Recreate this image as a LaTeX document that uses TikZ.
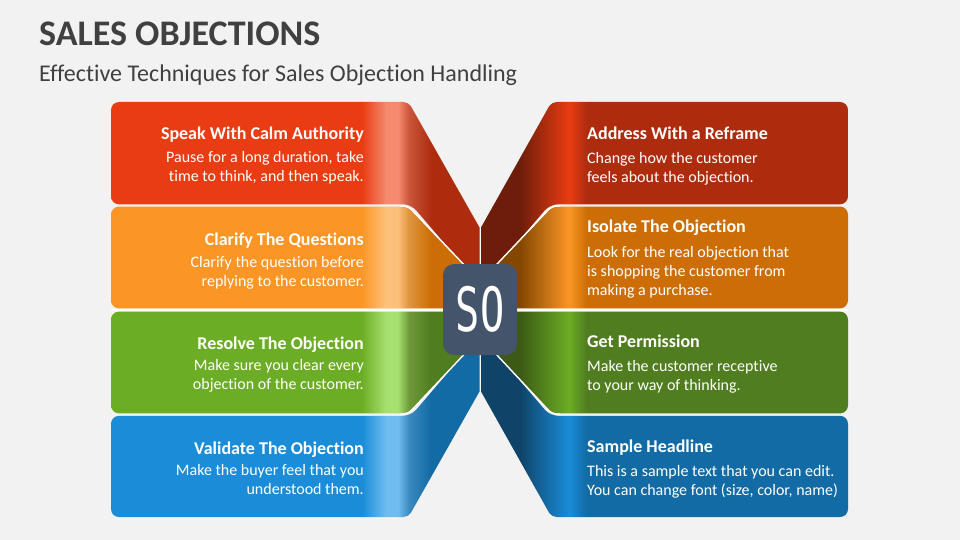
\documentclass[tikz,border=0pt]{standalone}
\usepackage{fontspec}
\setmainfont{Carlito}[Ligatures=NoCommon]
\newfontfamily\sofont{DejaVu Sans Mono}
\definecolor{bgc}{HTML}{F2F2F2}
\definecolor{inkc}{HTML}{404040}
\definecolor{slatec}{HTML}{44546A}
\definecolor{rBase}{HTML}{E93C12}\definecolor{rLight}{HTML}{F58A6E}\definecolor{rFade}{HTML}{C9553A}\definecolor{rDark}{HTML}{AE2C0E}\definecolor{rDeep}{HTML}{6E1D0A}
\definecolor{oBase}{HTML}{FB9626}\definecolor{oLight}{HTML}{FDC07A}\definecolor{oFade}{HTML}{DF9540}\definecolor{oDark}{HTML}{CC6E05}\definecolor{oDeep}{HTML}{844700}
\definecolor{gBase}{HTML}{6BAD24}\definecolor{gLight}{HTML}{A6E070}\definecolor{gFade}{HTML}{6F9A3A}\definecolor{gDark}{HTML}{507D1F}\definecolor{gDeep}{HTML}{3C5A15}
\definecolor{bBase}{HTML}{1A8CD8}\definecolor{bLight}{HTML}{70BCF0}\definecolor{bFade}{HTML}{3A88BE}\definecolor{bDark}{HTML}{126BA4}\definecolor{bDeep}{HTML}{0F4468}
\newcommand{\mkshades}[1]{%
\pgfdeclarehorizontalshading{#1L}{100bp}{color(0bp)=(#1Base); color(59bp)=(#1Base); color(62.3bp)=(#1Light); color(63.9bp)=(#1Light); color(65.4bp)=(#1Fade); color(68.4bp)=(#1Dark); color(100bp)=(#1Dark)}%
\pgfdeclarehorizontalshading{#1R}{100bp}{color(0bp)=(#1Deep); color(30.3bp)=(#1Deep); color(37bp)=(#1Base); color(39.4bp)=(#1Dark); color(100bp)=(#1Dark)}}
\mkshades{r}\mkshades{o}\mkshades{g}\mkshades{b}
\tikzset{
  seam/.style={draw=white,line width=1.4pt,line join=round},
  headL/.style={anchor=base east,inner sep=0pt,text=white,font=\fontsize{18}{19}\selectfont\bfseries},
  bodyL/.style={anchor=north east,inner sep=0pt,text=white,align=right,font=\fontsize{16}{19}\selectfont},
  headR/.style={anchor=base west,inner sep=0pt,text=white,font=\fontsize{18}{19}\selectfont\bfseries},
  bodyR/.style={anchor=north west,inner sep=0pt,text=white,align=left,font=\fontsize{16}{19}\selectfont},
}
\newcommand{\leftitem}[5]{%
  \node[headL] (#1h) at (364,#2) {#4};
  \node[bodyL] (#1b) at (364,#3-13.3) {\strut #5};}
\newcommand{\rightitem}[5]{%
  \node[headR] (#1h) at (587,#2) {#4};
  \node[bodyR] (#1b) at (587,#3-13.3) {\strut #5};}
\begin{document}
\begin{tikzpicture}[x=1pt,y=-1pt]
\useasboundingbox (0,0) rectangle (960,540);
\fill[bgc] (0,0) rectangle (960,540);
\node[anchor=base west,inner sep=0pt,text=inkc,font=\fontsize{36}{40}\selectfont\bfseries] (title) at (39,46) {SALES OBJECTIONS};
\node[anchor=base west,inner sep=0pt,text=inkc,font=\fontsize{24}{26}\selectfont] (subtitle) at (39,81.5) {Effective Techniques for Sales Objection Handling};
% far bands
\path[shading=rL,rounded corners=8pt] (480,285) -- (411,204.3) -- (111,204.3) -- (111,102) [rounded corners=5pt] -- (408.5,102) [sharp corners] -- (479.5,227.5) -- (479.5,285) -- cycle;
\path[shading=bL,rounded corners=8pt] (480,335) -- (411,415.8) -- (111,415.8) -- (111,517) [rounded corners=5pt] -- (408.5,517) [sharp corners] -- (479.5,391.5) -- (479.5,335) -- cycle;
\path[shading=rR,rounded corners=8pt] (481,285) -- (550,204.3) -- (848,204.3) -- (848,102) [rounded corners=5pt] -- (551.5,102) [sharp corners] -- (481,227.5) -- (481,285) -- cycle;
\path[shading=bR,rounded corners=8pt] (481,335) -- (550,415.8) -- (848,415.8) -- (848,517) [rounded corners=5pt] -- (551.5,517) [sharp corners] -- (481,391.5) -- (481,335) -- cycle;
% middle bands
\path[shading=oL,rounded corners=8pt] (479.5,308.4) -- (111,308.4) -- (111,206.6) [rounded corners=5pt] -- (408,206.6) [sharp corners] -- (479.5,282) -- cycle;
\path[shading=gL,rounded corners=8pt] (479.5,311.6) -- (111,311.6) -- (111,413.4) [rounded corners=5pt] -- (408,413.4) [sharp corners] -- (479.5,337.5) -- cycle;
\path[shading=oR,rounded corners=8pt] (481,308.4) -- (848,308.4) -- (848,206.6) [rounded corners=5pt] -- (552,206.6) [sharp corners] -- (481,282) -- cycle;
\path[shading=gR,rounded corners=8pt] (481,311.6) -- (848,311.6) -- (848,413.4) [rounded corners=5pt] -- (552,413.4) [sharp corners] -- (481,337.5) -- cycle;
% white seams
\draw[seam,rounded corners=5pt] (400,206) -- (408,206) -- (479.5,281);
\draw[seam,rounded corners=5pt] (400,414) -- (408,414) -- (479.5,338);
\draw[seam,rounded corners=5pt] (560,206) -- (552,206) -- (481,281);
\draw[seam,rounded corners=5pt] (560,414) -- (552,414) -- (481,338);
\draw[seam] (111,310) -- (848,310);
\draw[seam] (480.3,227.5) -- (480.3,391.5);
% hub
\node[fill=slatec,rounded corners=11pt,minimum width=74pt,minimum height=91pt,inner sep=0pt] (hub) at (480,309.5) {};
\node[inner sep=0pt,text=white,xscale=0.66,font=\fontsize{61}{61}\selectfont\sofont] (hubtext) at (480,309.5) {SO};
% texts
\leftitem{a}{140}{162}{Speak With Calm Authority}{Pause for a long duration, take\\time to think, and then speak.}
\leftitem{c}{245}{267}{Clarify The Questions}{Clarify the question before\\replying to the customer.}
\leftitem{e}{349}{370}{Resolve The Objection}{Make sure you clear every\\objection of the customer.}
\leftitem{g}{454}{475}{Validate The Objection}{Make the buyer feel that you\\understood them.}
\rightitem{b}{139.5}{163}{Address With a Reframe}{Change how the customer\\feels about the objection.}
\rightitem{d}{232}{257}{Isolate The Objection}{Look for the real objection that\\is shopping the customer from\\making a purchase.}
\rightitem{f}{347}{371}{Get Permission}{Make the customer receptive\\to your way of thinking.}
\rightitem{h}{452}{476}{Sample Headline}{This is a sample text that you can edit.\\You can change font (size, color, name)}
\end{tikzpicture}
\end{document}
